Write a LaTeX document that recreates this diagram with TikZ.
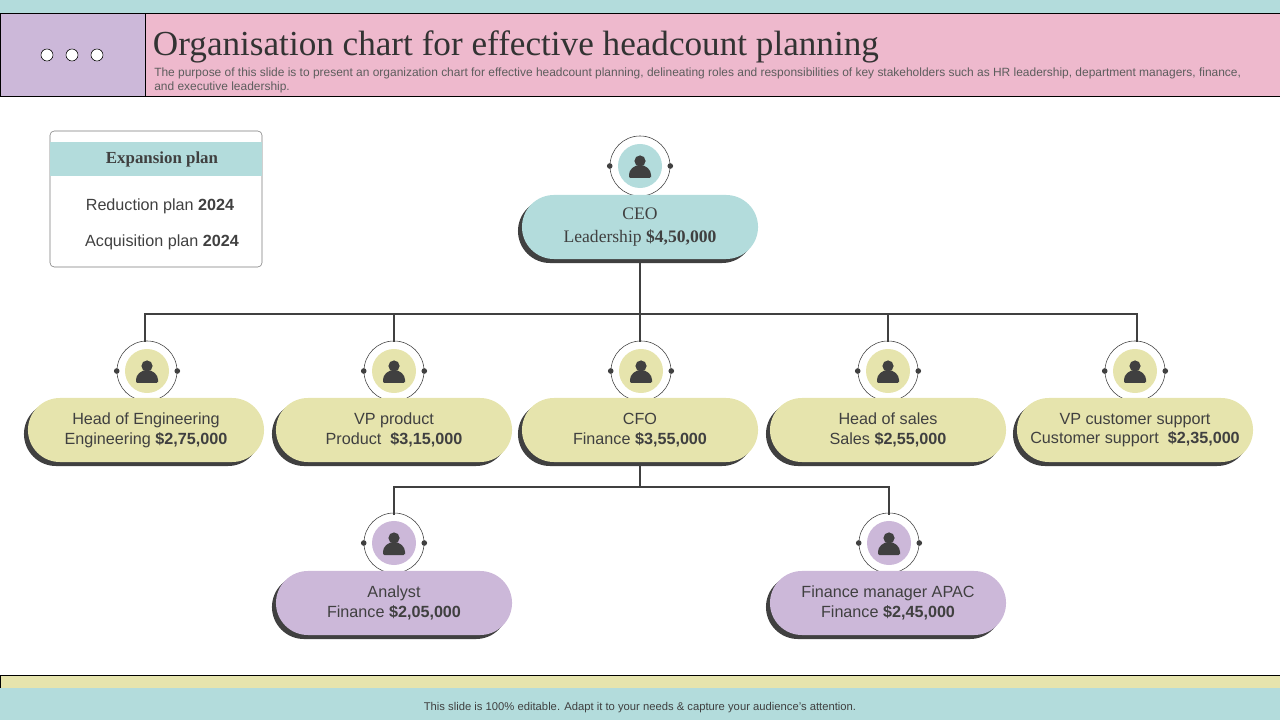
\documentclass[tikz,border=0pt]{standalone}
\usepackage{fontspec}
\setmainfont{Liberation Serif}
\setsansfont{Liberation Sans}
\usetikzlibrary{positioning, shapes, shadows, calc}
\definecolor{tealbg}{HTML}{B3DCDC}
\definecolor{yelbg}{HTML}{E6E4AD}
\definecolor{purbg}{HTML}{CCB8D9}
\definecolor{pinkbg}{HTML}{EEB9CD}
\definecolor{ink}{HTML}{404040}
\newcommand{\personicon}[3]{% name, position, colour
  \node[circle, draw=ink, thin, minimum size=1.5cm, inner sep=0pt] (#1) at #2 {};
  \fill[#3] (#1) circle (0.55cm);
  \fill[ink] ($(#1)+(0,-5)$) circle (0.14cm);
  \fill[ink, rounded corners=1pt] ($(#1)+(-11,12)$) -- ($(#1)+(-11,10)$)
    arc[start angle=180, end angle=0, radius=0.275cm] -- ($(#1)+(11,12)$) -- cycle;
  \fill[ink] (#1.west) circle (2pt) (#1.east) circle (2pt);}
\begin{document}
\begin{tikzpicture}[x=0.025cm, y=-0.025cm, font=\sffamily,
    pill/.style={rounded corners=0.8cm, minimum width=5.9cm, minimum height=1.6cm,
      align=center, text=ink, inner sep=0pt, font=\sffamily\fontsize{11.5}{14}\selectfont,
      drop shadow={shadow xshift=-0.1cm, shadow yshift=-0.1cm, fill=ink, opacity=1}},
    link/.style={draw=ink, line width=2pt}]
  \useasboundingbox (0,0) rectangle (1280,720);
  % header
  \fill[tealbg] (0,0) rectangle (1280,13);
  \draw[fill=purbg] (0,13) rectangle (145,96);
  \draw[fill=pinkbg] (145,13) rectangle (1280,96);
  \foreach \x in {47,72,97} \draw[fill=white] (\x,55) circle (0.15cm);
  \node[anchor=west, font=\rmfamily\fontsize{25}{28}\selectfont, text=ink!80!black] (title) at (148,47) {Organisation chart for effective headcount planning};
  \node[anchor=north west, align=left, text=ink!85, inner sep=0pt,
    font=\sffamily\fontsize{8.5}{10}\selectfont] (sub) at (154,68)
    {The purpose of this slide is to present an organization chart for effective headcount planning, delineating roles and responsibilities of key stakeholders such as HR leadership, department managers, finance,\\and executive leadership.};
  % footer
  \draw[fill=yelbg] (0,675) rectangle (1280,688);
  \fill[tealbg] (0,688) rectangle (1280,720);
  \node[text=ink, font=\sffamily\fontsize{8}{9}\selectfont] (foot) at (640,708) {This slide is 100\% editable. Adapt it to your needs \& capture your audience’s attention.};
  % legend
  \draw[ink!70, rounded corners=3pt] (50,131) rectangle (262,267);
  \fill[tealbg] (50,142) rectangle (262,176);
  \node[font=\rmfamily\bfseries\fontsize{12}{14}\selectfont, text=ink] (legt) at (162,159) {Expansion plan};
  \node[text=ink, font=\sffamily\fontsize{11.5}{14}\selectfont] (leg1) at (160,206) {Reduction plan \textbf{2024}};
  \node[text=ink, font=\sffamily\fontsize{11.5}{14}\selectfont] (leg2) at (162,242) {Acquisition plan \textbf{2024}};
  % connectors
  \coordinate (bar) at (640,314);
  \coordinate (cbar) at (640,487);
  \draw[link] (640,259) -- (bar);
  \draw[link] (145,342) -- (145,314) -- (1137,314) -- (1137,342);
  \foreach \x in {394,640,888} \draw[link] (\x,314) -- (\x,342);
  \draw[link] (640,462) -- (cbar);
  \draw[link] (394,515) -- (394,487) -- (889,487) -- (889,515);
  % CEO
  \personicon{iceo}{(640,166)}{tealbg}
  \node[pill, fill=tealbg, font=\rmfamily\fontsize{12.5}{16}\selectfont] (ceo) at (640,227) {CEO\\Leadership \textbf{\$4,50,000}};
  % level 2
  \personicon{ieng}{(147,371)}{yelbg}
  \node[pill, fill=yelbg] (eng) at (146,430) {Head of Engineering\\Engineering \textbf{\$2,75,000}};
  \personicon{ivp}{(394,371)}{yelbg}
  \node[pill, fill=yelbg] (vp) at (394,430) {VP product\\Product \ \textbf{\$3,15,000}};
  \personicon{icfo}{(641,371)}{yelbg}
  \node[pill, fill=yelbg] (cfo) at (640,430) {CFO\\Finance \textbf{\$3,55,000}};
  \personicon{isal}{(888,371)}{yelbg}
  \node[pill, fill=yelbg] (sal) at (888,430) {Head of sales\\Sales \textbf{\$2,55,000}};
  \personicon{icus}{(1135,371)}{yelbg}
  \node[pill, fill=yelbg] (cus) at (1135,430) {VP customer support\\Customer support \ \textbf{\$2,35,000}};
  % level 3
  \personicon{iana}{(394,543)}{purbg}
  \node[pill, fill=purbg] (ana) at (394,603) {Analyst\\Finance \textbf{\$2,05,000}};
  \personicon{ifin}{(889,543)}{purbg}
  \node[pill, fill=purbg] (fin) at (888,603) {Finance manager APAC\\Finance \textbf{\$2,45,000}};
\end{tikzpicture}
\end{document}
